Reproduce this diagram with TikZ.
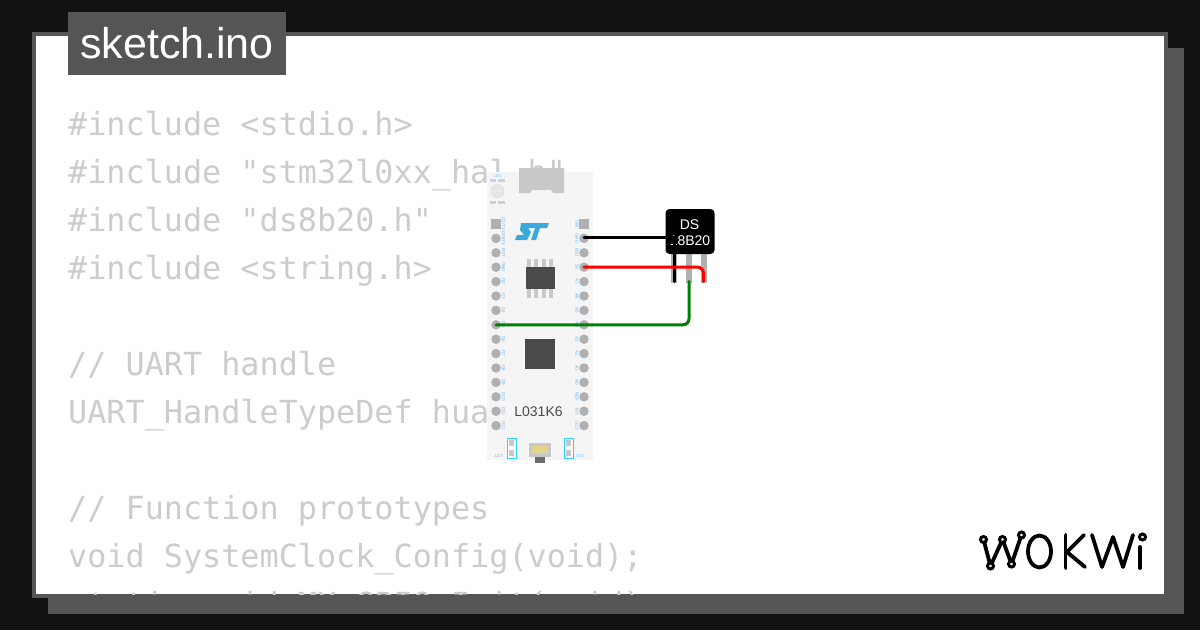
\documentclass[tikz,border=0pt]{standalone}
\usepackage{fontspec}
\setmainfont{Liberation Sans}
\newfontfamily\codefont{DejaVu Sans Mono}
\definecolor{page}{HTML}{111111}
\definecolor{frame}{HTML}{555555}
\definecolor{codegray}{HTML}{CCCCCC}
\definecolor{boardgray}{HTML}{F5F5F5}
\definecolor{pingray}{HTML}{B0B0B0}
\definecolor{chipgray}{HTML}{4A4A4A}
\definecolor{silk}{HTML}{6EB8F5}
\definecolor{stblue}{HTML}{39A9DC}
\definecolor{ledcyan}{HTML}{2FD0F5}
\definecolor{wiregreen}{HTML}{008000}
\definecolor{buttonyellow}{HTML}{E3D28A}
\tikzset{
	codeline/.style={anchor=base west, inner sep=0pt, text=codegray, font=\codefont\fontsize{31.8}{32}\selectfont},
	pinhole/.style={circle, fill=pingray, inner sep=0pt, minimum size=9.5pt},
	pinsquare/.style={rectangle, fill=pingray, inner sep=0pt, minimum size=9.5pt},
	silklabel/.style={inner sep=0pt, text=silk, font=\fontsize{4.6}{5}\selectfont, rotate=-90},
	silktext/.style={inner sep=0pt, text=silk, font=\fontsize{4.2}{5}\selectfont},
	leg/.style={fill=pingray!70!white},
	wire/.style={line width=3pt, rounded corners=6pt, line cap=round},
	logoline/.style={draw=black, line width=3.8pt, line cap=round, line join=round},
	logoball/.style={draw=black, fill=white, line width=3pt}
}
\begin{document}
\begin{tikzpicture}[x=1pt, y=-1pt]
	\useasboundingbox (0,0) rectangle (1200,630);
	\fill[page] (0,0) rectangle (1200,630);
	\fill[frame] (48,48) rectangle (1184,614);
	\fill[frame] (32,32) rectangle (1168,598);
	\fill[white] (36,36) rectangle (1164,594);
	% code behind the board
	\begin{scope}
		\clip (36,36) rectangle (1164,594);
		\node[codeline] (c1) at (68,135) {\#include <stdio.h>};
		\node[codeline] (c2) at (68,183) {\#include "stm32l0xx\_hal.h"};
		\node[codeline] (c3) at (68,231) {\#include "ds8b20.h"};
		\node[codeline] (c4) at (68,279) {\#include <string.h>};
		\node[codeline] (c5) at (68,375) {// UART handle};
		\node[codeline] (c6) at (68,423) {UART\_HandleTypeDef huart2;};
		\node[codeline] (c7) at (68,519) {// Function prototypes};
		\node[codeline] (c8) at (68,567) {void SystemClock\_Config(void);};
		\node[codeline] (c9) at (68,615) {static void MX\_GPIO\_Init(void);};
	\end{scope}
	% title tab
	\fill[frame] (68,12) rectangle (286,75);
	\node[inner sep=0pt, text=white, font=\fontsize{43}{44}\selectfont] (title) at (177,43) {sketch.ino};
	% board
	\fill[boardgray] (487,172) rectangle (593,460);
	\fill[pingray!70!white] (519,168) -- (564,168) -- (564,193) -- (553,193) -- (551,190) -- (532,190) -- (530,193) -- (519,193) -- cycle;
	\node[silktext] (ld1) at (497.500,176.500) {LD1};
	\fill[pingray!60!white] (490,179) rectangle (496,182);
	\fill[pingray!60!white] (498,179) rectangle (505,182);
	\fill[pingray!60!white] (490,201) rectangle (496,204);
	\fill[pingray!60!white] (498,201) rectangle (505,204);
	\filldraw[fill=pingray!30!white, draw=pingray!50!white] (497.500,191) circle (6.5);
	% logo of the board
	\fill[stblue] (521,223) -- (549,223) -- (547,228) -- (540,228) -- (536,240) -- (531,240) -- (535,228) -- (528,228) -- (531,232) -- (527,240) -- (515,240) -- (517,235) -- (524,235) -- (520,230) -- cycle;
	% small chip
	\foreach \x in {529,536,544,551} {
		\fill[leg] (\x-2,259) rectangle (\x+2,267);
		\fill[leg] (\x-2,289) rectangle (\x+2,298);
	}
	\fill[chipgray] (526,267) rectangle (555,289);
	% big chip
	\fill[chipgray] (525,339) rectangle (555,369);
	\node[inner sep=0pt, text=chipgray, font=\fontsize{14}{14}\selectfont] (name) at (538.500,411.500) {L031K6};
	% pins
	\foreach \n/\ltext/\rtext [count=\i from 0] in {1/{D1/TX}/VIN, 2/{D0/RX}/GND, 3/RST/RST, 4/GND/5V, 5/D2/A7, 6/D3/A6, 7/D4/A5, 8/D5/A4, 9/D6/A3, 10/D7/A2, 11/D8/A1, 12/D9/A0, 13/D10/REF, 14/D11/3V3, 15/D12/D13} {
		\pgfmathsetmacro{\py}{224+14.4*\i}
		\ifnum\n=1
			\node[pinsquare] (l\n) at (496,\py) {};
			\node[pinsquare] (r\n) at (584,\py) {};
		\else
			\node[pinhole] (l\n) at (496,\py) {};
			\node[pinhole] (r\n) at (584,\py) {};
		\fi
		\node[silklabel] (tl\n) at (503.500,\py) {\ltext};
		\node[silklabel] (tr\n) at (577,\py) {\rtext};
	}
	% leds and button
	\filldraw[fill=white, draw=ledcyan, line width=1pt] (507,438.500) rectangle (516,458);
	\fill[pingray!70!white] (509,440) rectangle (514,446);
	\fill[pingray!70!white] (509,450) rectangle (514,456);
	\filldraw[fill=white, draw=ledcyan, line width=1pt] (564.500,438.500) rectangle (573,458);
	\fill[pingray!70!white] (566,440) rectangle (571,446);
	\fill[pingray!70!white] (566,450) rectangle (571,456);
	\node[silktext] (ld2) at (499,456) {LD2};
	\node[silktext] (ld3) at (580,456) {LD3};
	\fill[chipgray!80!white] (535,456) rectangle (545,463);
	\fill[pingray!70!white] (529,443) rectangle (551,457);
	\fill[buttonyellow] (531.500,445.500) rectangle (548,454);
	% sensor
	\fill[pingray] (671,250) rectangle (677,283);
	\fill[pingray] (686,250) rectangle (692,283);
	\fill[pingray] (701,250) rectangle (707,283);
	\coordinate (gndleg) at (674,281.500);
	\coordinate (dqleg) at (689,281.500);
	\coordinate (vccleg) at (703.500,281.500);
	\node[rectangle, rounded corners=4pt, fill=black, minimum width=49pt, minimum height=45pt, inner sep=0pt] (ds) at (690,231.500) {};
	\node[inner sep=0pt, text=white, font=\fontsize{14}{14}\selectfont] (ds1) at (689.500,224.500) {DS};
	\node[inner sep=0pt, text=white, font=\fontsize{14}{14}\selectfont] (ds2) at (690,241) {18B20};
	% wires
	\coordinate (gndpin) at (584,237.500);
	\draw[wire, black, rounded corners=0pt] (gndpin) -| (gndleg);
	\draw[wire, red] (r4.center) -| (vccleg);
	\draw[wire, wiregreen] (l8.center) -| (dqleg);
	% wokwi logo
	\draw[logoline] (983.500,539.500) -- (990.500,566) -- (1002.500,539.500) -- (1011.500,564) -- (1021.500,535);
	\draw[logoline] (1039.500,551.500) ellipse (11.500 and 16);
	\draw[logoline] (1065.500,535) -- (1065.500,568);
	\draw[logoline] (1084,535) -- (1067,552) -- (1085,567);
	\draw[logoline] (1092,535) -- (1102,567) -- (1113,537) -- (1123,567) -- (1133,535);
	\draw[logoline] (1140,547) -- (1140,568);
	\node[circle, logoball, inner sep=0pt, minimum size=6pt] (b1) at (983.500,539.500) {};
	\node[circle, logoball, inner sep=0pt, minimum size=6pt] (b2) at (990.500,566) {};
	\node[circle, logoball, inner sep=0pt, minimum size=6pt] (b3) at (1002.500,539.500) {};
	\node[circle, logoball, inner sep=0pt, minimum size=6pt] (b4) at (1011.500,564) {};
	\node[circle, logoball, inner sep=0pt, minimum size=6pt] (b5) at (1021.500,535) {};
	\node[circle, logoball, inner sep=0pt, minimum size=6pt] (b6) at (1142.500,537) {};
\end{tikzpicture}
\end{document}
